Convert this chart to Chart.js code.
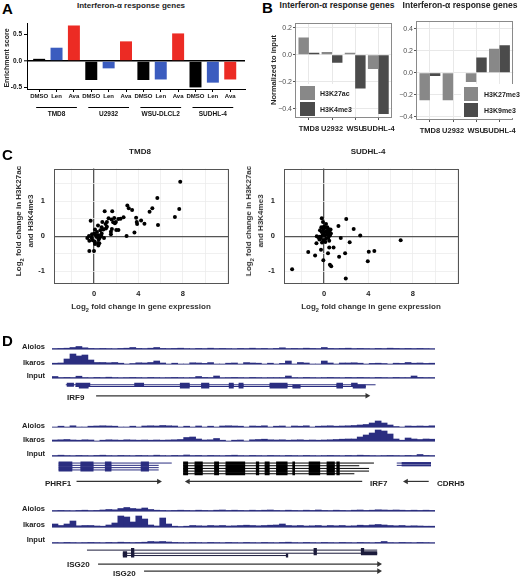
<!DOCTYPE html>
<html lang="en">
<head>
<meta charset="UTF-8">
<meta name="viewport" content="width=520, initial-scale=1.0">
<title>Interferon-α response genes</title>
<style>
  html, body { margin: 0; padding: 0; background: #fff; }
  #fig { position: relative; width: 520px; height: 579px; overflow: hidden; font-family: "Liberation Sans", Arial, sans-serif; }
  #fig canvas { position: absolute; }
  .t { position: absolute; white-space: nowrap; font-weight: bold; color: #222; line-height: 1; }
  .t sub { font-size: 70%; line-height: 0; }
  .sw { position: absolute; }
</style>
</head>
<body>
<div id="fig"></div>
<script src="https://cdn.jsdelivr.net/npm/chart.js"></script>
<script>
// ---------- A: enrichment score ----------
const aGroups = ['TMD8', 'U2932', 'WSU-DLCL2', 'SUDHL-4'];
const aTreatments = ['DMSO', 'Len', 'Ava'];
const aScores = [0.04, 0.25, 0.67, -0.36, -0.14, 0.37, -0.36, -0.35, 0.52, -0.50, -0.41, -0.35];
const aTicks = [-0.5, 0, 0.5];
const aColors = ['#000000', '#3b5cbf', '#ec2b24'];

// ---------- B: normalized to input ----------
const bCats = ['TMD8', 'U2932', 'WSU', 'SUDHL-4'];
const bH3K27ac = [0.127, 0.02, 0.014, -0.107];
const bH3K4me3 = [0.014, -0.06, -0.25, -0.44];
const bLeftTicks = [-0.4, -0.2, 0, 0.2];
const bH3K27me3 = [-0.25, -0.25, -0.083, 0.22];
const bH3K9me3 = [-0.03, 0, 0.139, 0.25];
const bRightTicks = [-0.4, -0.2, 0, 0.2, 0.4];

// ---------- C: log2 fold change scatter ----------
const cTmd8Expr = [7.76, 5.7, 7.67, 5.25, 5.0, 7.28, 5.76, 3.0, 3.13, 3.43, 3.79, 3.85, 3.88, 4.24, 4.54, 3.64, 2.93, 2.66, 2.39, 2.18,
  1.82, 1.64, 0.96, 1.58, 1.31, 1.16, 1.04, 0.75, 0.36, 0.69, 1.16, 1.73, 1.88, 1.97, 1.52, 1.52, 2.0, 2.2, 1.61, -0.3,
  1.07, 0.84, 0.57, 0.27, 0.09, 0.03, -0.18, 0.15, -0.45, -0.21, -0.42, -0.12, 0.06, 0.09, 0.36, 0.42, 0.48, 0.66, 0.69, 0.39,
  0.24, -0.42, 0.0, 0.51, 0.9, 0.48, 0.39, -0.6];
const cTmd8Mark = [1.55, 1.09, 0.78, 0.80, 0.70, 0.55, 0.32, 0.88, 0.80, 0.75, 0.53, 0.41, 0.35, 0.45, 0.36, 0.11, 0.01, 0.54, 0.5, 0.49,
  0.52, 0.71, 0.71, 0.48, 0.51, 0.41, 0.35, 0.41, 0.31, 0.26, 0.27, 0.40, 0.37, 0.41, 0.13, 0.06, 0.18, 0.18, 0.21, 0.44,
  0.22, 0.19, 0.17, 0.12, 0.19, 0.08, 0.06, 0.04, 0.01, -0.04, -0.13, -0.11, -0.15, -0.22, -0.19, -0.09, -0.04, 0.01, 0.08, 0.03,
  -0.02, -0.42, -0.42, -0.04, -0.05, -0.2, -0.26, -0.05];
const cSudExpr = [-2.87, -1.42, -0.8, -0.27, -0.68, -0.06, 0.53, 0.65, 0.36, 0.47, 0.86, 1.36, 1.9, 1.96, 2.31, 1.51, 1.3, 2.0, 2.67, 3.26,
  3.94, 4.03, 4.53, 6.9, -0.2, -0.09, 0.18, -0.36, -0.21, -0.06, 0.09, 0.24, 0.39, 0.53, 0.3, 0.09, -0.12, -0.36, -0.5, -0.41,
  -0.27, -0.06, 0.18, 0.39, 0.53, 0.62, 0.47, 0.12, -0.18, -0.65, 0.3, 0.0, -0.24, 0.03, 0.27, 0.41, 0.59];
const cSudMark = [-0.94, -0.45, -0.55, -0.38, -0.2, -0.68, -0.81, -0.85, -0.48, -0.32, -0.32, -0.58, -0.48, -1.2, -0.17, -0.05, 0.29, 0.49, 0.21, 0.02,
  -0.71, -0.44, -0.42, -0.11, 0.51, 0.41, 0.35, 0.17, 0.12, 0.19, 0.24, 0.15, 0.11, 0.17, 0.06, 0.02, 0.04, -0.01, -0.03, -0.09,
  -0.05, -0.11, -0.07, -0.04, 0.02, 0.08, -0.13, -0.16, -0.18, 0.0, 0.26, 0.28, 0.26, 0.11, 0.13, 0.2, 0.19];
const cXTicks = [-2, 0, 2, 4, 6, 8, 10, 12];
const cXLabels = [0, 4, 8];
const cYTicks = [-1, -0.5, 0, 0.5, 1, 1.5];
const cYLabels = [-1, 0, 1];

// ---------- D: ChIP-seq coverage (64 bins per locus) ----------
const irf9Aiolos = [0.5,0.6,0.8,1.5, 2.5,1.2,0.6,0.5, 0.6,0.5,0.4,0.6, 0.8,1.5,0.6,0.5,
  0.8,1.5,0.6,0.5, 0.6,0.8,0.5,0.4, 0.6,0.5,0.8,0.5, 0.6,0.5,0.4,0.6,
  0.5,0.8,0.5,0.6, 0.4,0.6,1.2,0.5, 0.6,0.5,0.8,0.6, 0.5,1.5,0.6,0.5,
  0.6,0.8,0.5,0.6, 0.5,0.4,0.6,0.5, 0.8,0.6,0.5,0.6, 0.5,0.6,0.5,0.4];
const irf9Ikaros = [0.8,1.0,5,10, 8,9,4,1.5, 1.5,1.2,1.5,0.8, 0,0.5,1.2,1.0,
  1.5,3,1,0, 0.8,0,0,1.2, 1.0,0.6,1.4,0, 0,0.8,1.0,0,
  1.4,1.0,0.8,0, 0.8,0,0.6,3, 0,1.5,1.0,0, 0,3,1.0,0,
  1.0,1.0,1.2,0.8, 0,0.6,0.8,0.5, 0,0.8,0.6,1.5, 0.8,1.0,0.6,0.8];
const irf9Input = [1.5,0.5,0.6,0.5, 1.8,0.5,0.4,0.6, 0.5,0.8,0.5,0.4, 0.5,0.6,0.5,0.4,
  0.6,0.5,0.4,0.5, 0.6,0.5,0.4,0.5, 1.5,0.6,0.5,2, 0.4,0.5,0.6,0.5,
  0.4,0.6,0.5,0.4, 0.5,0.5,0.5,2, 0.5,0.4,0.6,0.5, 0.4,0.5,0.6,0.5,
  0.4,0.6,0.5,0.6, 0.5,0.4,0.6,0.5, 0.4,0.6,0.5,0.5, 2,0.6,0.5,0.5];
const irf7Aiolos = [0,0.8,0,1.2, 0,0,0.8,1.0, 1.2,1.0,0.8,0, 0,0.8,0,1.0,
  1.2,1.0,1.5,1.2, 1.0,0,0.8,0, 1.0,0,0.8,0, 1.0,1.2,1.0,0.8,
  0,1.0,0.8,1.2, 0,0.8,1.0,0, 1.0,0.8,1.2,0, 0.8,1.0,1.2,0.8,
  1.0,1.2,1.5,2, 2.5,4,6,4, 2,0.5,0,1.0, 0.8,1.0,0.8,1.2];
const irf7Ikaros = [1.0,1.2,1.5,1.0, 0.8,1.2,1.0,0, 0.8,1.2,1.0,0.8, 1.2,1.0,0.8,1.0,
  0.8,1.0,0.8,1.0, 1.2,1.5,3.5,4, 2,1.0,1.2,2.5, 0.8,0,0.8,1.0,
  0,1.2,1.5,1.8, 1.2,1.0,1.2,0.8, 1.0,1.2,0.8,1.0, 0.8,1.0,1.2,1.5,
  1.8,2,2,4, 6,8,11,10, 7,2,0.8,3, 2,1.5,2,1.8];
const irf7Input = [0.5,0.8,0.5,0.4, 0.6,0.5,0.4,0.6, 0.8,0.5,0.4,0.6, 0.5,0.4,0.6,0.5,
  0.4,0.8,0.5,0.4, 0.6,0.5,1.0,0.5, 0.6,0.4,0.6,0.5, 0.4,0.6,0.8,0.5,
  0.4,0.6,0.5,0.4, 0.6,0.5,0.4,0.6, 0.5,0.4,0.6,0.5, 0.4,0.5,0.6,0.5,
  0.4,0.6,0.5,0.8, 0.6,0.5,0.4,0.5, 0.6,0.5,0.4,0.6, 0.5,1.5,0.6,0.5];
const isg20Aiolos = [0.5,0.6,0.5,0.4, 0.6,0.8,0.5,0.6, 1.0,1.5,1.2,2.5, 3.5,2.5,2.0,3,
  1.5,0.8,0.6,0.5, 0.6,0.8,0.6,0.5, 0.8,0.6,0.5,0.8, 1.0,0.6,0.8,0.6,
  0.5,0.8,0.6,0.8, 1.0,0.6,0.5,0.8, 0.6,0.5,0.8,0.6, 1.0,0.6,0.5,0.8,
  0.6,0.5,0.8,1.0, 0.6,0.8,1.2,1.0, 0.8,1.0,0.8,0.6, 0.8,0.6,0.8,0.6];
const isg20Ikaros = [3,1.5,3,6, 1.2,1.5,1.5,1.0, 0.8,2,4,11, 10,5,11,8,
  2,1.0,9,3, 0.8,0.5,0.8,1.5, 1.2,1.0,1.5,1.2, 1.5,1.0,1.2,1.5,
  1.8,1.5,1.2,1.5, 1.8,2,3,1.5, 1.2,1.5,1.0,1.2, 1.5,1.0,1.5,1.2,
  1.5,1.0,1.2,1.8, 1.5,2,2.5,2, 1.5,1.2,1.5,1.0, 1.2,1.0,0.8,0.8];
const isg20Input = [0.5,0.4,0.6,0.5, 0.4,0.5,0.6,0.5, 0.4,0.6,0.5,0.8, 0.6,0.5,0.6,0.8,
  1.5,1.2,1.5,1.0, 0.6,0.5,0.4,0.6, 0.5,0.4,0.6,0.5, 0.4,0.6,0.5,0.4,
  0.6,0.5,0.4,0.6, 0.5,0.4,0.6,0.8, 0.5,0.4,0.6,0.5, 0.4,0.6,0.5,0.4,
  0.6,0.5,0.4,0.6, 0.5,0.4,0.6,1.5, 0.5,0.4,0.6,0.5, 0.4,0.6,0.5,0.4];

// gene models, in locus units (0..1150 across the track)
const trackSpan = 1150;
const irf9Exons1 = [[33,55],[60,105],[240,270],[380,410],[445,470],[530,545],[560,575],[655,710],[860,880],[905,925]];
const irf9Exons2 = [[70,100],[380,410],[445,470],[530,545],[560,575],[655,710],[725,750],[860,880],[910,950]];
const phrf1Exons = [[8,50],[75,115],[150,170],[260,285]];
const irf7Exons = [[390,405],[425,450],[485,500],[520,580],[613,623],[640,655],[675,710],[725,733],[775,810],[830,855],[860,870]];
const irf7Ends = [975, 930, 960, 960, 915];
const cdrh5Exons = [[1060,1150]];
const isg20Exons1 = [[230,240],[790,800],[935,945]];
const isg20Exons2 = [[205,218],[230,240],[790,800],[935,945],[945,985]];
const isg20Exons3 = [[205,218],[230,240],[705,712]];

const fig = document.getElementById('fig');
const navy = '#2b2e80';

Chart.defaults.animation = false;
Chart.defaults.responsive = false;
Chart.defaults.devicePixelRatio = 1;
Chart.defaults.font.family = '"Liberation Sans", Arial, sans-serif';
Chart.defaults.plugins.legend.display = false;
Chart.defaults.plugins.tooltip.enabled = false;

// box round the plot area
Chart.register({
  id: 'frame',
  afterDraw(chart, args, opts) {
    if (!opts || !opts.color) return;
    const a = chart.chartArea, ctx = chart.ctx;
    ctx.save();
    ctx.strokeStyle = opts.color;
    ctx.lineWidth = 1;
    ctx.strokeRect(Math.round(a.left) + 0.5, Math.round(a.top) + 0.5, Math.round(a.right - a.left) - 1, Math.round(a.bottom - a.top) - 1);
    ctx.restore();
  }
});

function makeCanvas(left, top, w, h) {
  const c = document.createElement('canvas');
  c.width = w; c.height = h;
  c.style.left = left + 'px';
  c.style.top = top + 'px';
  fig.appendChild(c);
  return c;
}
const fixW = n => s => { s.width = n; };
const fixH = n => s => { s.height = n; };
const setTicks = vals => s => { s.ticks = vals.map(v => ({ value: v })); };

function txt(html, x, y, size, align, extra, color) {
  const d = document.createElement('div');
  d.className = 't';
  d.innerHTML = html;
  d.style.left = x + 'px';
  d.style.top = y + 'px';
  d.style.fontSize = size + 'px';
  if (color) d.style.color = color;
  const tx = align === 'left' ? '0' : align === 'right' ? '-100%' : '-50%';
  d.style.transform = 'translate(' + tx + ',-50%)' + (extra || '');
  fig.appendChild(d);
  return d;
}
function swatch(x, y, w, h, color) {
  const d = document.createElement('div');
  d.className = 'sw';
  d.style.cssText += `left:${x}px;top:${y}px;width:${w}px;height:${h}px;background:${color};`;
  fig.appendChild(d);
}

// ---------- panel A ----------
const groupUnderline = {
  id: 'groupUnderline',
  afterDraw(chart) {
    const x = chart.scales.x, g = chart.scales.group, ctx = chart.ctx;
    ctx.save();
    ctx.strokeStyle = '#000';
    ctx.lineWidth = 1.2;
    aGroups.forEach((_, k) => {
      const x1 = x.getPixelForValue(k * 3) - 3, x2 = x.getPixelForValue(k * 3 + 2) + 3;
      const yy = Math.round(g.top + 6) + 0.5;
      ctx.beginPath(); ctx.moveTo(x1, yy); ctx.lineTo(x2, yy); ctx.stroke();
    });
    ctx.restore();
  }
};
const aLabels = aGroups.flatMap(() => aTreatments);
new Chart(makeCanvas(0, 18, 250, 106), {
  type: 'bar',
  data: {
    datasets: [{
      data: aScores.map((v, i) => ({ x: i, y: v })),
      backgroundColor: aScores.map((_, i) => aColors[i % 3]),
      barPercentage: 0.69, categoryPercentage: 1
    }]
  },
  options: {
    layout: { padding: { top: 3, right: 5 } },
    scales: {
      x: {
        type: 'linear', min: -0.7, max: 11.85, offset: false,
        afterBuildTicks: setTicks(aLabels.map((_, i) => i)),
        grid: { drawOnChartArea: false, offset: false, tickLength: 3, color: '#000' },
        border: { color: '#000' },
        ticks: { autoSkip: false, maxRotation: 0, padding: 1, color: '#111', font: { size: 6, weight: 'bold' }, callback: v => aLabels[v] },
        afterFit: fixH(12)
      },
      group: {
        type: 'linear', position: 'bottom', min: -0.7, max: 11.85, offset: false,
        afterBuildTicks: setTicks(aGroups.map((_, k) => k * 3 + 1)),
        grid: { display: false, drawTicks: false, offset: false }, border: { display: false },
        ticks: { autoSkip: false, maxRotation: 0, padding: 9, color: '#111', font: { size: 6.5, weight: 'bold' }, callback: v => aGroups[(v - 1) / 3] },
        afterFit: fixH(23)
      },
      y: {
        min: -0.53, max: 0.70,
        afterBuildTicks: setTicks(aTicks),
        grid: { color: c => c.tick && c.tick.value === 0 ? '#000' : 'rgba(0,0,0,0)', lineWidth: c => c.tick && c.tick.value === 0 ? 1.6 : 1, tickColor: '#000', tickLength: 3, tickWidth: 1 },
        border: { color: '#000' },
        ticks: { padding: 2, color: '#111', font: { size: 6.5, weight: 'bold' }, callback: v => v.toFixed(1) },
        afterFit: fixW(27)
      }
    }
  },
  plugins: [groupUnderline]
});

// ---------- panel B ----------
function fmtB(v) { return v === 0 ? '0.0' : (v < 0 ? '\u2212' : '') + Math.abs(v).toFixed(1); }
function barPair(left, top, w, h, yW, padR, padT, xH, s1, s2, yMin, yMax, yTicks) {
  new Chart(makeCanvas(left, top, w, h), {
    type: 'bar',
    data: {
      datasets: [
        { data: s1.map((v, i) => ({ x: i, y: v })), backgroundColor: '#888888', barPercentage: 1, categoryPercentage: 0.9 },
        { data: s2.map((v, i) => ({ x: i, y: v })), backgroundColor: '#4b4b4b', barPercentage: 1, categoryPercentage: 0.9 }
      ]
    },
    options: {
      layout: { padding: { top: padT, right: padR } },
      scales: {
        x: {
          type: 'linear', min: -0.6, max: 3.6, offset: false,
          afterBuildTicks: setTicks(bCats.map((_, i) => i)),
          grid: { color: '#e8e8e8', tickColor: '#555', tickLength: 2, offset: false },
          border: { display: false },
          ticks: { autoSkip: false, maxRotation: 0, padding: 4, color: '#222', font: { size: 7.5, weight: 'bold' }, callback: v => bCats[v] },
          afterFit: fixH(xH)
        },
        y: {
          min: yMin, max: yMax,
          afterBuildTicks: setTicks(yTicks),
          grid: { color: '#e8e8e8', tickColor: '#555', tickLength: 2 },
          border: { display: false },
          ticks: { padding: 1, color: '#4d4d4d', font: { size: 7 }, callback: fmtB },
          afterFit: fixW(yW)
        }
      },
      plugins: { frame: { color: '#8a8a8a' } }
    }
  });
}
barPair(262, 18, 137, 118, 33, 3, 2, 18, bH3K27ac, bH3K4me3, -0.47, 0.234, bLeftTicks);
barPair(390, 16, 130, 120, 26, 2, 2, 16, bH3K27me3, bH3K9me3, -0.43, 0.47, bRightTicks);

// ---------- panel C ----------
function scatter(left, xs, ys) {
  const zero = (a, b) => c => c.tick && c.tick.value === 0 ? a : b;
  new Chart(makeCanvas(left, 155, 224, 150), {
    type: 'scatter',
    data: { datasets: [{ data: xs.map((x, i) => ({ x: x, y: ys[i] })), pointRadius: 2, pointBackgroundColor: '#000', pointBorderWidth: 0 }] },
    options: {
      layout: { padding: { top: 4, right: 5 } },
      scales: {
        x: {
          min: -3.6, max: 12.15,
          afterBuildTicks: setTicks(cXTicks),
          grid: { color: zero('#555', '#ececec'), lineWidth: zero(1.3, 0.8), drawTicks: false },
          border: { display: false },
          ticks: { padding: 6, color: '#222', font: { size: 7.5, weight: 'bold' }, callback: v => cXLabels.includes(v) ? String(v) : '' },
          afterFit: fixH(22)
        },
        y: {
          min: -1.33, max: 1.93,
          afterBuildTicks: setTicks(cYTicks),
          grid: { color: zero('#555', '#ececec'), lineWidth: zero(1.3, 0.8), drawTicks: false },
          border: { display: false },
          ticks: { padding: 9, color: '#222', font: { size: 7.5, weight: 'bold' }, callback: v => cYLabels.includes(v) ? String(v) : '' },
          afterFit: fixW(44)
        }
      },
      plugins: { frame: { color: '#555' } }
    }
  });
}
scatter(10, cTmd8Expr, cTmd8Mark);
scatter(240, cSudExpr, cSudMark);

// ---------- panel D ----------
function coverage(baseline, values) {
  new Chart(makeCanvas(52, baseline - 14, 383, 15), {
    type: 'bar',
    data: { labels: values.map((_, i) => i), datasets: [{ data: values, backgroundColor: navy, barPercentage: 1, categoryPercentage: 1, borderWidth: 0 }] },
    options: {
      events: [],
      scales: {
        x: { grid: { display: false, drawTicks: false }, ticks: { display: false }, border: { color: '#8486b0' }, afterFit: fixH(1) },
        y: { display: false, min: 0, max: 14 }
      }
    }
  });
}
function genes(top, height, rows, arrows) {
  const ds = [];
  rows.forEach(r => {
    ds.push({ data: [{ x: r.span[0], y: r.lane }, { x: r.span[1], y: r.lane }], borderColor: r.color, borderWidth: 1, showLine: true, pointRadius: 0 });
    const pts = [];
    r.exons.forEach(e => { pts.push({ x: e[0], y: r.lane }, { x: e[1], y: r.lane }, { x: e[1], y: null }); });
    ds.push({ data: pts, borderColor: r.color, borderWidth: r.thick, showLine: true, pointRadius: 0, spanGaps: false });
  });
  arrows.forEach(a => {
    ds.push({
      data: [{ x: a.from, y: a.lane }, { x: a.to, y: a.lane }],
      borderColor: '#333', borderWidth: 1.2, showLine: true,
      pointStyle: 'triangle', pointRadius: c => c.dataIndex === 1 ? 3.2 : 0,
      pointRotation: a.to > a.from ? 90 : -90, pointBackgroundColor: '#333', pointBorderColor: '#333', pointBorderWidth: 0
    });
  });
  new Chart(makeCanvas(52, top, 383, height), {
    type: 'scatter',
    data: { datasets: ds },
    options: {
      events: [],
      scales: {
        x: { type: 'linear', min: 0, max: trackSpan, display: false },
        y: { min: 0, max: height, reverse: true, display: false }
      }
    }
  });
}

// IRF9 locus
coverage(349, irf9Aiolos);
coverage(363.5, irf9Ikaros);
coverage(378, irf9Input);
genes(378, 26, [
  { lane: 4, span: [30, 980], exons: irf9Exons1, color: navy, thick: 4 },
  { lane: 6.5, span: [60, 950], exons: irf9Exons2, color: navy, thick: 4 }
], [{ from: 123, to: 954, lane: 20 }]);

// PHRF1 / IRF7 / CDRH5 locus
coverage(427, irf7Aiolos);
coverage(441, irf7Ikaros);
coverage(456, irf7Input);
const irf7Rows = [];
[4, 7, 10, 13].forEach((ln, k) => irf7Rows.push({ lane: ln, span: [8, k === 0 ? 355 : 315], exons: phrf1Exons, color: navy, thick: 3 }));
[4, 7.5, 11, 14.5, 18].forEach((ln, k) => irf7Rows.push({ lane: ln, span: [390, irf7Ends[k]], exons: irf7Exons, color: '#000', thick: 3.2 }));
[4, 7].forEach(ln => irf7Rows.push({ lane: ln, span: [1045, 1150], exons: cdrh5Exons, color: navy, thick: 2 }));
genes(456, 34, irf7Rows, [
  { from: 63, to: 315, lane: 28 },
  { from: 939, to: 405, lane: 28 },
  { from: 1143, to: 1074, lane: 28 }
]);

// ISG20 locus
coverage(511, isg20Aiolos);
coverage(527, isg20Ikaros);
coverage(543, isg20Input);
genes(543, 36, [
  { lane: 4, span: [95, 985], exons: isg20Exons1, color: '#1c1c3c', thick: 4 },
  { lane: 8, span: [205, 985], exons: isg20Exons2, color: '#1c1c3c', thick: 4 },
  { lane: 11, span: [205, 710], exons: isg20Exons3, color: '#1c1c3c', thick: 4 }
], [{ from: 129, to: 990, lane: 22 }, { from: 270, to: 990, lane: 31 }]);

// ---------- text ----------
txt('A', 2, 8, 15, 'left', '', '#000');
txt('B', 262, 7, 15, 'left', '', '#000');
txt('C', 2, 154, 15, 'left', '', '#000');
txt('D', 2, 340, 15, 'left', '', '#000');

txt('Interferon-α response genes', 131, 6, 8);
txt('Enrichment score', 5.5, 58, 7, 'center', ' rotate(-90deg)');

txt('Interferon-α response genes', 337, 5, 8.5);
txt('Interferon-α response genes', 460, 5, 8.5);
txt('Normalized to input', 274, 70, 7.5, 'center', ' rotate(-90deg)');

// B legends (drawn over the plot like the original)
swatch(297, 84, 52, 33, '#fff');
swatch(300, 86, 15, 14, '#888888');
swatch(300, 102, 15, 14, '#4b4b4b');
txt('H3K27ac', 320, 93, 7, 'left');
txt('H3K4me3', 320, 109, 7, 'left');
swatch(461, 84, 56, 34, '#fff');
swatch(464, 87, 14, 14, '#888888');
swatch(464, 103, 14, 14, '#4b4b4b');
txt('H3K27me3', 484, 94, 7, 'left');
txt('H3K9me3', 484, 110, 7, 'left');

txt('TMD8', 140, 152, 8);
txt('SUDHL-4', 368, 152, 8);
const yTitle = 'Log<sub>2</sub> fold change in H3K27ac<br>and H3K4me3';
const yl = txt(yTitle, 25, 221, 8, 'center', ' rotate(-90deg)', '#333');
yl.style.textAlign = 'center'; yl.style.lineHeight = '12px';
const yr = txt(yTitle, 255, 221, 8, 'center', ' rotate(-90deg)', '#333');
yr.style.textAlign = 'center'; yr.style.lineHeight = '12px';
txt('Log<sub>2</sub> fold change in gene expression', 141, 307, 8, 'center', '', '#333');
txt('Log<sub>2</sub> fold change in gene expression', 371, 307, 8, 'center', '', '#333');

[[347, 362.5, 376], [426, 440, 454], [509, 524.5, 540]].forEach(ys => {
  txt('Aiolos', 45, ys[0], 7.5, 'right');
  txt('Ikaros', 45, ys[1], 7.5, 'right');
  txt('Input', 45, ys[2], 7.5, 'right');
});
txt('IRF9', 67, 398, 8, 'left');
txt('PHRF1', 45, 484, 8, 'left');
txt('IRF7', 370, 484, 8, 'left');
txt('CDRH5', 437, 484, 8, 'left');
txt('ISG20', 67, 565, 8, 'left');
txt('ISG20', 113, 574, 8, 'left');
</script>
</body>
</html>
